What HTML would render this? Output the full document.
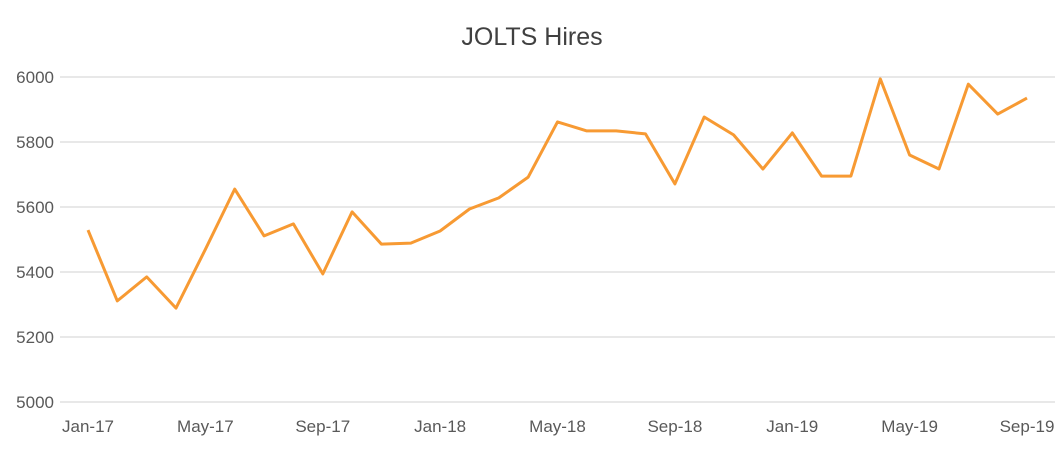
<!DOCTYPE html>
<html><head><meta charset="utf-8"><style>
html,body{margin:0;padding:0;background:#fff;}
svg{display:block;font-family:"Liberation Sans",sans-serif;}
</style></head><body>
<svg id="chart" width="1064" height="450">
<text x="532" y="45" text-anchor="middle" font-size="25" fill="#404040">JOLTS Hires</text>
<g id="grid"></g>
<g id="yticks"></g>
<g id="xticks"></g>
<path id="line" fill="none" stroke="#f79a33" stroke-width="3" stroke-linejoin="round"></path>
</svg>
<script>
const months = ["Jan-17","Feb-17","Mar-17","Apr-17","May-17","Jun-17","Jul-17","Aug-17","Sep-17","Oct-17","Nov-17","Dec-17","Jan-18","Feb-18","Mar-18","Apr-18","May-18","Jun-18","Jul-18","Aug-18","Sep-18","Oct-18","Nov-18","Dec-18","Jan-19","Feb-19","Mar-19","Apr-19","May-19","Jun-19","Jul-19","Aug-19","Sep-19"];
const hires = [5529,5311,5385,5289,5470,5655,5511,5548,5394,5585,5486,5489,5526,5594,5628,5692,5862,5834,5834,5825,5671,5877,5822,5717,5828,5695,5695,5994,5760,5717,5978,5886,5935];
const yTicks = [5000,5200,5400,5600,5800,6000];
const xLabelIdx = [0,4,8,12,16,20,24,28,32];

const NS="http://www.w3.org/2000/svg";
const x0=88, x1=1027, yTop=77, yBot=402, yMin=5000, yMax=6000;
const xs=i=>x0+(x1-x0)*i/(months.length-1);
const ys=v=>yBot-(v-yMin)/(yMax-yMin)*(yBot-yTop);
const grid=document.getElementById('grid'), yt=document.getElementById('yticks'), xt=document.getElementById('xticks');
yTicks.forEach(v=>{
  const l=document.createElementNS(NS,'line');
  l.setAttribute('x1',60);l.setAttribute('x2',1055);l.setAttribute('y1',ys(v));l.setAttribute('y2',ys(v));
  l.setAttribute('stroke','#d9d9d9');l.setAttribute('stroke-width','1.3');
  
  
  grid.appendChild(l);
  const t=document.createElementNS(NS,'text');
  t.setAttribute('x',54);t.setAttribute('y',ys(v)+6);t.setAttribute('text-anchor','end');
  t.setAttribute('font-size','17');t.setAttribute('fill','#595959');t.textContent=v;
  
  
  yt.appendChild(t);
});
xLabelIdx.forEach(i=>{
  const t=document.createElementNS(NS,'text');
  t.setAttribute('x',xs(i));t.setAttribute('y',432);t.setAttribute('text-anchor','middle');
  t.setAttribute('font-size','17');t.setAttribute('fill','#595959');t.textContent=months[i];
  
  
  xt.appendChild(t);
});
document.getElementById('line').setAttribute('d',hires.map((v,i)=>(i?'L':'M')+xs(i).toFixed(1)+' '+ys(v).toFixed(1)).join(' '));
</script>
</body></html>
